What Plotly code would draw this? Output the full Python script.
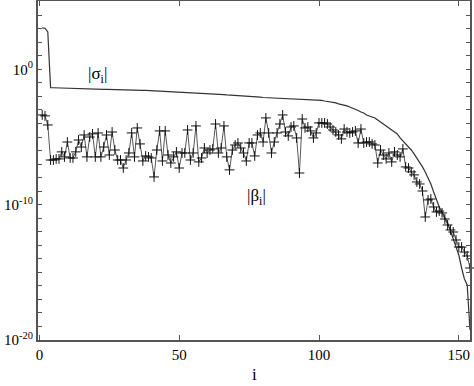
import numpy as np
import plotly.graph_objects as go

# index i
idx = list(range(1, 155))

# log10 |sigma_i|
sigma_exp = [
    3.06, 3.04, 2.76,
    -1.35, -1.36, -1.37, -1.37, -1.38, -1.39, -1.39, -1.40, -1.41, -1.41, -1.42, -1.43, -1.43, -1.44, -1.45, -1.45, -1.46,
    -1.47, -1.47, -1.48, -1.48, -1.49, -1.50, -1.50, -1.51, -1.51, -1.52, -1.53, -1.53, -1.54, -1.54, -1.55, -1.55, -1.56,
    -1.56, -1.57, -1.57, -1.58, -1.58, -1.59,
    -1.60, -1.61, -1.62, -1.63, -1.64, -1.65, -1.66, -1.67, -1.68, -1.69, -1.70, -1.71, -1.73, -1.74,
    -1.75, -1.77, -1.78, -1.80, -1.81, -1.83, -1.84, -1.86, -1.87, -1.89, -1.90, -1.92, -1.93, -1.95, -1.96, -1.98,
    -2.00, -2.02,
    -2.03, -2.04, -2.05, -2.06, -2.08, -2.09, -2.10, -2.11, -2.12, -2.13, -2.14, -2.15, -2.16, -2.17, -2.18, -2.19,
    -2.20, -2.21,
    -2.22, -2.22, -2.23, -2.24, -2.24, -2.25, -2.26,
    -2.30, -2.34, -2.37, -2.41, -2.45, -2.48, -2.55, -2.59, -2.63, -2.70, -2.78, -2.85, -2.93, -3.04, -3.15, -3.22,
    -3.37, -3.44, -3.52, -3.59, -3.74, -3.89, -4.04, -4.18, -4.33, -4.48, -4.63, -4.77,
    -5.07, -5.29, -5.51, -5.66, -5.96, -6.25, -6.55, -6.92, -7.21, -7.58, -8.03, -8.47, -9.06, -9.65, -10.17,
    -10.54, -10.91, -11.35, -11.94, -12.53, -13.05, -13.72, -14.68, -15.49, -15.93, -19.26,
]

# log10 |beta_i|
beta_exp = [
    -3.37, -3.44, -4.11, -6.70, -6.70, -6.62, -6.62, -6.10, -6.47, -5.37,
    -6.55, -6.55, -6.10, -5.22, -5.74, -4.85, -6.47, -5.00, -4.77, -6.47,
    -4.70, -6.47, -5.74, -4.85, -6.33, -4.63, -5.96, -6.70, -6.70, -7.29,
    -6.70, -6.18, -4.70, -6.47, -4.33, -5.51, -6.77, -6.40, -6.47, -6.55,
    -7.95, -5.96, -4.55, -6.77, -4.55, -6.33, -6.92, -6.47, -6.10, -7.29,
    -6.18, -6.18, -4.48, -6.70, -6.18, -4.18, -6.84, -6.55, -5.81, -6.18,
    -5.96, -5.88, -4.04, -6.18, -5.81, -4.18, -6.47, -7.43, -5.96, -5.59,
    -5.44, -5.81, -6.18, -6.77, -5.44, -5.44, -6.40, -4.85, -4.70, -5.37,
    -3.59, -4.70, -6.18, -5.37, -4.70, -4.04, -3.37, -4.63, -4.92, -4.26,
    -4.18, -5.07, -7.66, -3.67, -4.33, -4.26, -4.55, -5.07, -4.70, -3.96,
    -3.96, -3.96, -4.04, -4.26, -4.48, -4.63, -4.85, -5.14, -4.41, -4.63,
    -4.70, -4.63, -4.55, -5.44, -4.41, -5.44, -5.37, -5.37, -5.51, -5.59,
    -6.92, -5.96, -6.33, -6.62, -6.18, -6.84, -6.10, -6.33, -6.47, -5.88,
    -7.21, -7.29, -7.58, -7.80, -8.32, -8.47, -8.99, -10.91, -9.65, -9.58,
    -10.17, -10.54, -10.47, -10.61, -11.06, -11.50, -11.87, -12.02, -12.61, -13.13,
    -13.13, -13.50, -13.79, -14.68,
]

x_tick_vals = [0, 50, 100, 150]
y_label_exps = [0, -10, -20]

sigma = 10.0 ** np.array(sigma_exp)
beta = 10.0 ** np.array(beta_exp)

FONT = "Liberation Serif"

fig = go.Figure()
fig.add_trace(go.Scatter(
    x=idx, y=sigma, mode="lines",
    line=dict(color="#333333", width=1.2),
    showlegend=False, hoverinfo="skip",
))
fig.add_trace(go.Scatter(
    x=idx, y=beta, mode="lines+markers",
    line=dict(color="#444444", width=0.9),
    marker=dict(symbol="cross-thin", size=7, line=dict(width=1, color="#111111")),
    showlegend=False, hoverinfo="skip", cliponaxis=False,
))

decades = list(range(-20, 6))
ytext = []
for d in decades:
    if d in y_label_exps:
        ytext.append("10<sup>%d</sup>" % d)
    else:
        ytext.append("")

fig.update_layout(
    template="none",
    width=474, height=386,
    margin=dict(l=38, r=4, t=1, b=46, pad=0),
    plot_bgcolor="white", paper_bgcolor="white",
    font=dict(family=FONT, size=15, color="black"),
    xaxis=dict(
        automargin=False,
        range=[-0.5, 154], showgrid=False, zeroline=False,
        tickvals=x_tick_vals, ticktext=[str(v) for v in x_tick_vals],
        ticks="inside", ticklen=5, tickwidth=1, tickcolor="#555555",
        showline=True, linecolor="#555555", linewidth=2, mirror="ticks",
        tickfont=dict(family=FONT, size=15, color="black"),
    ),
    yaxis=dict(
        automargin=False,
        type="log", range=[-20, 5.05], showgrid=False, zeroline=False,
        tickvals=[10.0 ** d for d in decades], ticktext=ytext,
        ticks="inside", ticklen=4, tickwidth=1, tickcolor="#555555",
        showline=True, linecolor="#555555", linewidth=2, mirror="ticks",
        tickfont=dict(family=FONT, size=15, color="black"),
    ),
    annotations=[
        dict(x=20.6, y=-0.41, xref="x", yref="y", text="|σ<sub>i</sub>|",
             showarrow=False, font=dict(family=FONT, size=17, color="#000000")),
        dict(x=77.8, y=-9.43, xref="x", yref="y", text="|β<sub>i</sub>|",
             showarrow=False, font=dict(family=FONT, size=17, color="#000000")),
        dict(x=(254 - 38) / 432, y=(340 - 374) / 339, xref="paper", yref="paper",
             text="i", showarrow=False, yanchor="middle",
             font=dict(family=FONT, size=17, color="#000000")),
    ],
)

fig.write_html(
    "out.html",
    config={"responsive": False, "displayModeBar": False},
    post_script="document.body.style.margin='0px';document.body.style.padding='0px';",
)
